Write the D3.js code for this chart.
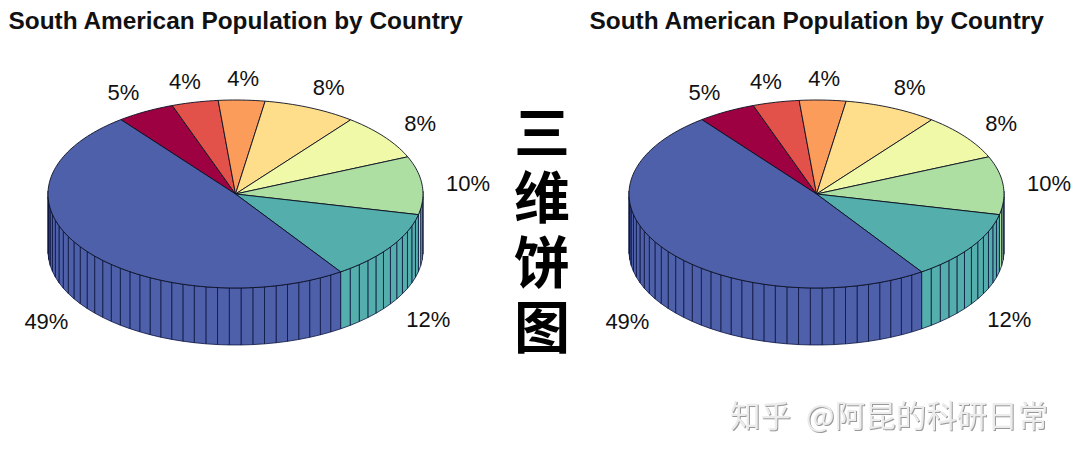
<!DOCTYPE html>
<html>
<head>
<meta charset="utf-8">
<script src="https://d3js.org/d3.v7.min.js"></script>
<style>
  html, body { margin: 0; padding: 0; background: #fff; }
  text { font-family: "Liberation Sans", Arial, sans-serif; fill: #111; }
</style>
</head>
<body>
<svg id="grafico"></svg>
<script>
var titulo = 'South American Population by Country';
// clockwise from the upper left, the way d3.pie walks round
var valores = [5, 4, 4, 8, 8, 10, 12, 49];
var cores = ['#9e0142', '#e2524a', '#fc9c5a', '#fede8a', '#eff9a7', '#aedfa2', '#54afac', '#4e60aa'];
var caligrafia = '三维饼图';
var marcaDagua = '知乎 @阿昆的科研日常';

var largura = 1080, altura = 460;
var svg = d3.select('#grafico').attr('width', largura).attr('height', altura);

var pie = d3.pie().sort(null)
  .startAngle(-37.7 * Math.PI / 180)
  .endAngle((360 - 37.7) * Math.PI / 180);

function desenhaPizza(cx) {
  var cy = 194, rx = 187.5, ry = 94, profundidade = 57;
  var g = svg.append('g');

  var x = d3.scaleLinear().domain([-1, 1]).range([cx - rx, cx + rx]);
  var y = d3.scaleLinear().domain([-1, 1]).range([cy + ry, cy - ry]);
  var linha = d3.line().x(d => x(Math.sin(d))).y(d => y(Math.cos(d)));
  var arcos = pie(valores);

  // side wall: one facet per percent, only the part facing the viewer
  var facetas = [];
  arcos.forEach(function(a, i) {
    var passo = (a.endAngle - a.startAngle) / a.value;
    d3.range(a.value).forEach(function(k) {
      var a0 = a.startAngle + k * passo, a1 = a0 + passo;
      if (Math.cos((a0 + a1) / 2) < 0.05) facetas.push({a0: a0, a1: a1, cor: cores[i]});
    });
  });
  g.selectAll('.faceta')
    .data(facetas)
    .enter()
      .append('path')
      .classed('faceta', true)
      .attr('d', function(d) {
        var t0 = Math.sin(d.a0), t1 = Math.sin(d.a1);
        var c0 = Math.cos(d.a0), c1 = Math.cos(d.a1);
        return 'M' + x(t0) + ',' + y(c0) + 'L' + x(t1) + ',' + y(c1) +
               'L' + x(t1) + ',' + (y(c1) + profundidade) +
               'L' + x(t0) + ',' + (y(c0) + profundidade) + 'Z';
      })
      .attr('fill', d => d.cor)
      .attr('stroke', '#0b1440')
      .attr('stroke-width', 0.8);

  // top face
  g.selectAll('.fatia')
    .data(arcos)
    .enter()
      .append('path')
      .classed('fatia', true)
      .attr('d', function(d) {
        var n = Math.max(2, Math.round((d.endAngle - d.startAngle) * 40));
        var pontos = d3.range(n + 1).map(k => d.startAngle + (d.endAngle - d.startAngle) * k / n);
        return 'M' + x(0) + ',' + y(0) + 'L' + linha(pontos).slice(1) + 'Z';
      })
      .attr('fill', (d, i) => cores[i])
      .attr('stroke', '#0b1020')
      .attr('stroke-width', 0.9)
      .attr('stroke-linejoin', 'round');

  g.selectAll('.rotulo')
    .data(arcos)
    .enter()
      .append('text')
      .classed('rotulo', true)
      .text(d => d.value + '%')
      .attr('text-anchor', 'middle')
      .attr('dominant-baseline', 'central')
      .style('font-size', '22px')
      .attr('x', function(d) {
        return x(1.245 * Math.sin((d.startAngle + d.endAngle) / 2));
      })
      .attr('y', function(d) {
        var c = Math.cos((d.startAngle + d.endAngle) / 2);
        return y(1.23 * c) + (c < 0 ? profundidade + 3 : 0);
      });

  g.append('text')
    .text(titulo)
    .attr('x', cx - 227)
    .attr('y', 29)
    .style('font-size', '24.4px')
    .style('font-weight', 'bold');
}

desenhaPizza(235.5);
desenhaPizza(816.5);

// vertical brush-style caption
svg.append('text')
  .text(caligrafia)
  .attr('x', 542)
  .attr('y', 104)
  .style('writing-mode', 'vertical-rl')
  .style('letter-spacing', '9px')
  .style('font-family', '"Noto Sans CJK SC"')
  .style('font-weight', 700)
  .style('font-size', '56px')
  .style('fill', '#000');

svg.append('text')
  .text(marcaDagua)
  .attr('x', 730)
  .attr('y', 427)
  .style('word-spacing', '8px')
  .style('font-family', '"Noto Sans CJK SC"')
  .style('font-size', '30.5px')
  .style('fill', '#ececec')
  .style('filter', 'drop-shadow(1px 1px 0.5px #999)');
</script>
</body>
</html>
